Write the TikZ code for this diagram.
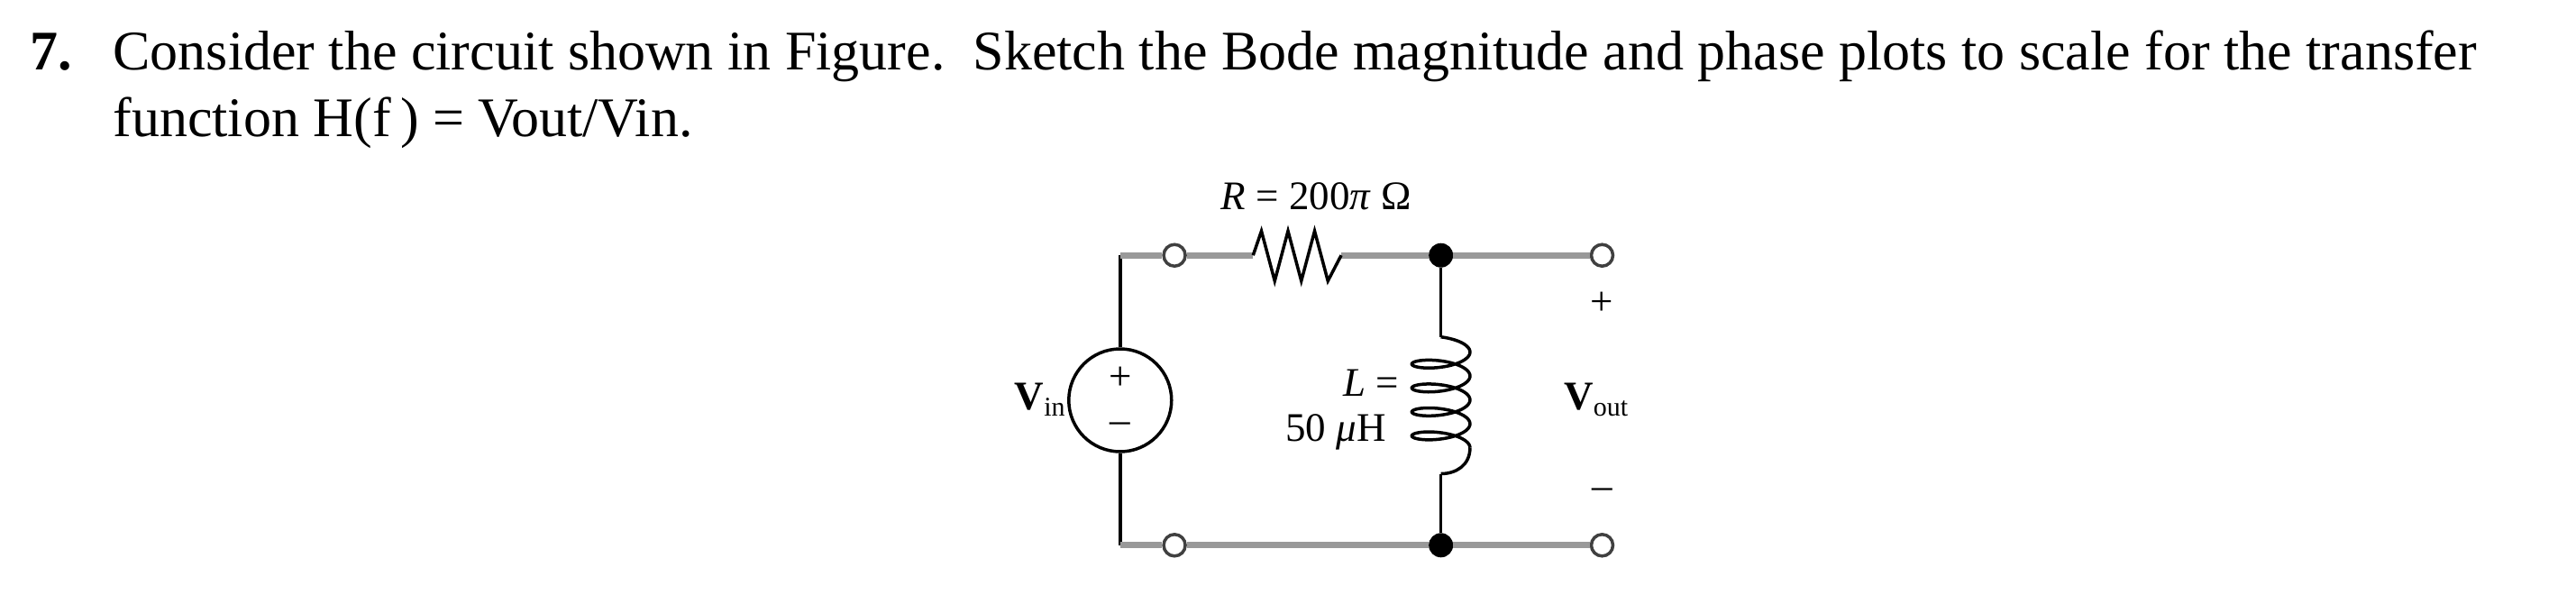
\documentclass[tikz,border=0pt]{standalone}
\usetikzlibrary{shapes.geometric}
\usepackage{fontspec}
\setmainfont{Liberation Serif}
\begin{document}
\begin{tikzpicture}[x=1.844pt,y=-1.844pt,
  hw/.style={line width=7pt,draw=black!40},
  vw/.style={line width=3.5pt,draw=black},
  term/.style={circle,draw=black!75,line width=3.5pt,fill=white,minimum size=24pt,inner sep=0pt},
  dot/.style={circle,fill=black,minimum size=27pt,inner sep=0pt},
  main/.style={font=\fontsize{62}{70}\selectfont,anchor=base west,inner sep=0pt},
  lab/.style={font=\fontsize{45}{50}\selectfont,inner sep=0pt}]
\useasboundingbox (0,0) rectangle (1550,363.3);
\node[main] (n7) at (18,42) {\textbf{7.}};
\node[main] (l1) at (68,42) {Consider the circuit shown in Figure.\ \ Sketch the Bode magnitude and phase plots to scale for the transfer};
\node[main] (l2) at (68,82) {function H(f\,) = Vout/Vin.};
% nodes
\coordinate (tl) at (674,153.6);
\coordinate (bl) at (674,328);
\node[term] (t1) at (706.7,153.6) {};
\node[term] (t2) at (706.7,328) {};
\node[dot] (d1) at (867,153.6) {};
\node[dot] (d2) at (867,328) {};
\node[term] (o1) at (964,153.6) {};
\node[term] (o2) at (964,328) {};
\node[draw,vw,circle,minimum size=114pt,inner sep=0pt] (src) at (674,240.8) {};
\coordinate (ra) at (754,153.6);
\coordinate (rb) at (807,153.6);
\coordinate (la) at (867,199);
\coordinate (lb) at (867,285);
\coordinate (c0) at (867,208.2);
% wires
\draw[vw] (tl) -- (src.north);
\draw[vw] (bl) -- (src.south);
\draw[hw] (tl) -- (t1);
\draw[hw] (bl) -- (t2);
\draw[hw] (t1) -- (ra);
\draw[hw] (rb) -- (d1);
\draw[hw] (d1) -- (o1);
\draw[hw] (t2) -- (d2);
\draw[hw] (d2) -- (o2);
\draw[line width=3.5pt,line join=miter] (ra) -- (759,139) -- (767,169) -- (775,139) -- (783,169) -- (791,139) -- (799,169) -- (rb);
\draw[vw] (d1) -- (la);
\draw[vw] (lb) -- (d2);
\draw[line width=3.5pt] (la) -- (867,202.7);
\draw[line width=3.5pt,shift={(c0)}] plot[domain=0:1530,samples=320,variable=\t,smooth] ({17.5*sin(\t)},{0.04*\t-5.5*cos(\t)});
\draw[line width=3.5pt] (884.5,269.4) .. controls (884.5,280) and (876,285) .. (lb);
% labels
\node[lab,anchor=base] (rl) at (792,126) {\textit{R} = 200\textit{π} Ω};
\node[lab,anchor=base east] (ll) at (842,238.6) {\textit{L} =};
\node[lab,anchor=base east] (lv) at (834,265.7) {50 \textit{μ}H};
\node[lab] (sp) at (674,227.8) {+};
\node[lab] (sm) at (674,257.6) {–};
\node[lab,anchor=base east] (vin) at (641,246.7) {\textbf{V}\raisebox{-7pt}{\fontsize{30}{34}\selectfont in}};
\node[lab,anchor=base west] (vout) at (941,246.7) {\textbf{V}\raisebox{-7pt}{\fontsize{30}{34}\selectfont out}};
\node[lab] (op) at (964,182.8) {+};
\node[lab] (om) at (964,297) {–};
\end{tikzpicture}
\end{document}
